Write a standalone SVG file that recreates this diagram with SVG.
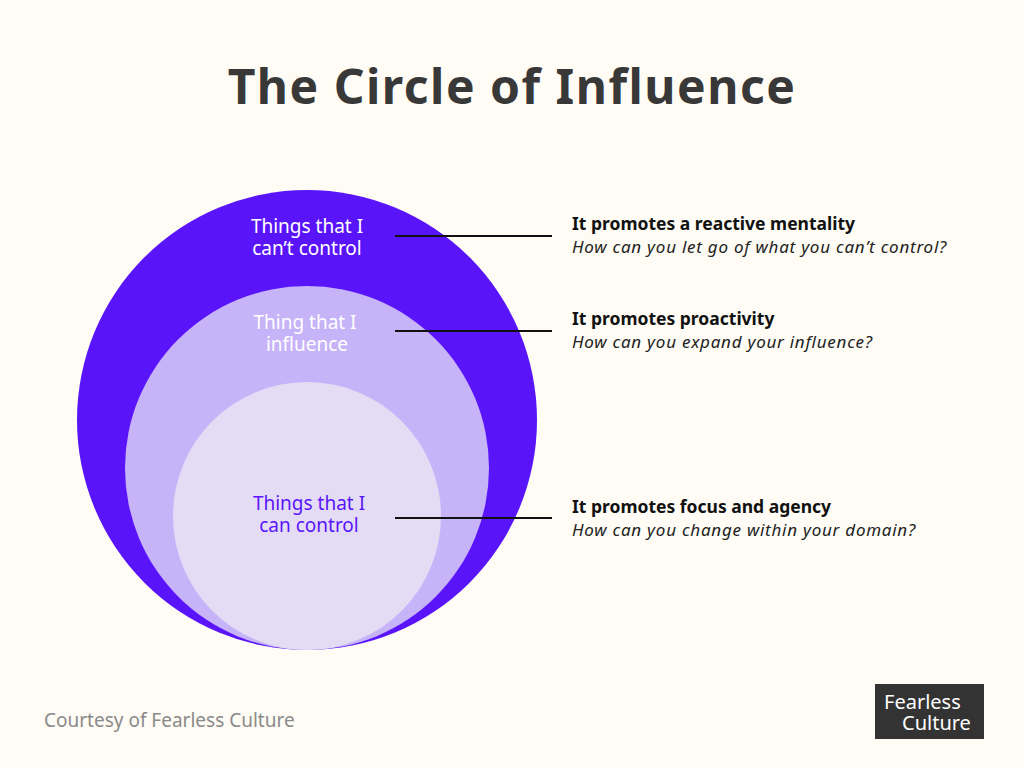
<svg xmlns="http://www.w3.org/2000/svg" width="1024" height="768" viewBox="0 0 1024 768">
<style>
.h{font-family:"Noto Sans","Open Sans",sans-serif;font-size:17.5px;font-weight:bold;fill:#111}
.s{font-family:"Noto Sans","Open Sans",sans-serif;font-size:17px;font-style:italic;fill:#222;letter-spacing:0.75px}
.c{font-family:"Noto Sans","Open Sans",sans-serif;font-size:19px;text-anchor:middle}
.l{stroke:#111;stroke-width:2}
</style>
<rect width="1024" height="768" fill="#fefcf5"/>
<text x="512" y="104" text-anchor="middle" font-family="'Noto Sans',sans-serif" font-weight="bold" font-size="48" letter-spacing="1.5" fill="#383838">The Circle of Influence</text>
<g id="outer"><circle cx="307" cy="420" r="230" fill="#5a14fa"/>
<text class="c" fill="#fff"><tspan x="307" y="233">Things that I</tspan><tspan x="307" y="255">can’t control</tspan></text></g>
<g id="middle"><circle cx="307" cy="468" r="182" fill="#c6b3f8"/>
<text class="c" fill="#fff"><tspan x="305" y="329">Thing that I</tspan><tspan x="307" y="351">influence</tspan></text></g>
<g id="inner"><circle cx="307" cy="516" r="134" fill="#e4dcf4"/>
<text class="c" fill="#5a14fa"><tspan x="309" y="510">Things that I</tspan><tspan x="309" y="532">can control</tspan></text></g>
<g id="connectors">
<line class="l" x1="395" y1="236" x2="552" y2="236"/>
<line class="l" x1="395" y1="331" x2="552" y2="331"/>
<line class="l" x1="395" y1="518" x2="552" y2="518"/>
</g>
<g id="note1"><text class="h" x="572" y="230">It promotes a reactive mentality</text><text class="s" x="572" y="253">How can you let go of what you can’t control?</text></g>
<g id="note2"><text class="h" x="572" y="325">It promotes proactivity</text><text class="s" x="572" y="348">How can you expand your influence?</text></g>
<g id="note3"><text class="h" x="572" y="513">It promotes focus and agency</text><text class="s" x="572" y="536">How can you change within your domain?</text></g>
<text x="44" y="727" font-family="'Noto Sans',sans-serif" font-size="19" fill="#8a8a8a">Courtesy of Fearless Culture</text>
<g id="logo"><rect x="875" y="684" width="109" height="55" fill="#333"/>
<text font-family="'Noto Sans',sans-serif" font-size="20" fill="#fff"><tspan x="884" y="709">Fearless</tspan><tspan x="902" y="730">Culture</tspan></text></g>
</svg>
